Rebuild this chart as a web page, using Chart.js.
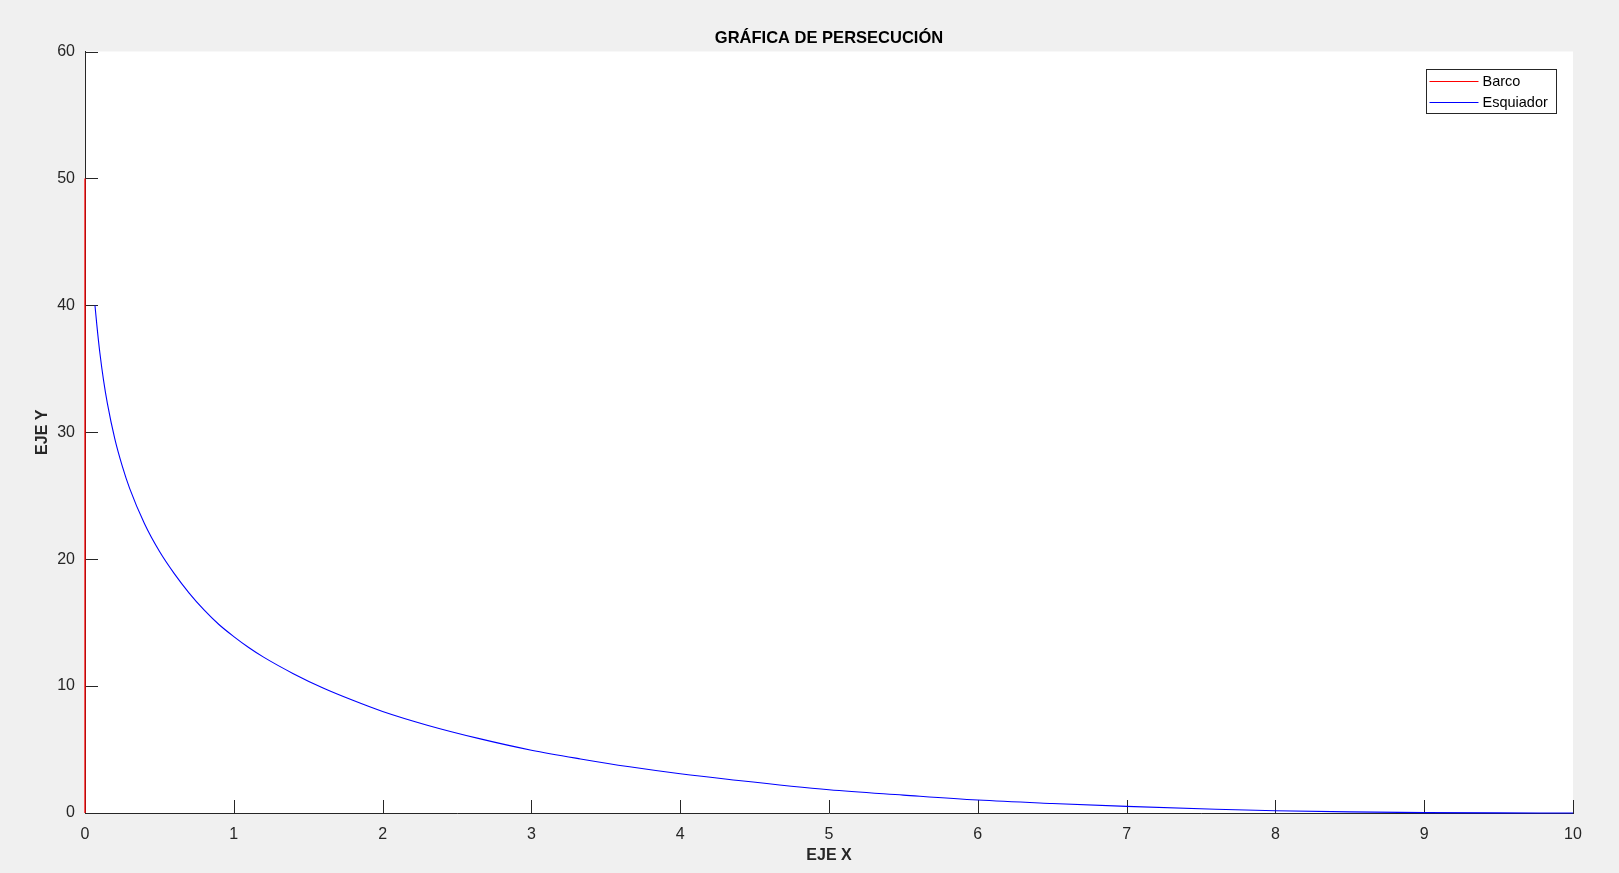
<!DOCTYPE html>
<html lang="es">
<head>
    <meta charset="UTF-8">
    <title>Gráfica de persecución</title>
    <script src="https://cdn.jsdelivr.net/npm/chart.js"></script>
    <style>
        body { margin: 0; background: #f0f0f0; }
        canvas { display: block; }
    </style>
</head>
<body>
<canvas id="chaseChart" width="1619" height="873"></canvas>
<script>
    // datos
    const barcoX = [0, 0];
    const barcoY = [0, 50];
    const esquiadorX = [0.067, 0.08, 0.1, 0.125, 0.15, 0.2, 0.25, 0.3, 0.4, 0.5, 0.6, 0.7, 0.8, 0.9, 1.0, 1.1, 1.2, 1.4, 1.6, 1.8, 2.0, 2.3, 2.65, 3.0, 3.33, 3.66, 4.0, 4.33, 5.0, 5.5, 6.0, 6.5, 7.0, 7.6, 8.0, 8.5, 9.0, 9.5, 10.0];
    const esquiadorY = [40, 38.4, 36.24, 34.07, 32.3, 29.5, 27.35, 25.58, 22.79, 20.62, 18.86, 17.33, 16.0, 14.85, 13.9, 13.04, 12.28, 10.98, 9.85, 8.88, 8.0, 6.92, 5.86, 4.95, 4.26, 3.64, 3.09, 2.64, 1.83, 1.41, 1.02, 0.75, 0.52, 0.3, 0.18, 0.09, 0.03, 0.01, 0.0];
    const xTicks = [0, 1, 2, 3, 4, 5, 6, 7, 8, 9, 10];
    const yTicks = [0, 10, 20, 30, 40, 50, 60];

    const toPoints = (xs, ys) => xs.map((x, i) => ({ x: x, y: ys[i] }));
    const axisColor = "#262626";
    const fontFamily = "'Liberation Sans', Arial, sans-serif";

    // fondo blanco del area de trazado
    const plotBackground = {
      id: "plotBackground",
      beforeDraw(chart) {
        const a = chart.chartArea;
        chart.ctx.save();
        chart.ctx.fillStyle = "#ffffff";
        chart.ctx.fillRect(a.left, a.top, a.right - a.left, a.bottom - a.top);
        chart.ctx.restore();
      }
    };

    // marcas de los ejes hacia dentro, como en matlab
    const inwardTicks = {
      id: "inwardTicks",
      beforeDatasetsDraw(chart) {
        const ctx = chart.ctx;
        const xs = chart.scales.x, ys = chart.scales.y;
        ctx.save();
        ctx.strokeStyle = axisColor;
        ctx.lineWidth = 1;
        ctx.beginPath();
        xs.ticks.forEach((t) => {
          const px = Math.round(xs.getPixelForValue(t.value)) + 0.5;
          ctx.moveTo(px, ys.bottom);
          ctx.lineTo(px, ys.bottom - 13);
        });
        ys.ticks.forEach((t) => {
          const py = Math.round(ys.getPixelForValue(t.value)) + 0.5;
          ctx.moveTo(xs.left, py);
          ctx.lineTo(xs.left + 13, py);
        });
        ctx.stroke();
        ctx.restore();
      }
    };

    // leyenda con recuadro en la esquina superior derecha
    const boxLegend = {
      id: "boxLegend",
      afterDatasetsDraw(chart) {
        const ctx = chart.ctx;
        const a = chart.chartArea;
        const w = 130, h = 44;
        const left = a.right - 17.5 - w;
        const top = a.top + 17;
        ctx.save();
        ctx.fillStyle = "#ffffff";
        ctx.fillRect(left, top, w, h);
        ctx.strokeStyle = axisColor;
        ctx.lineWidth = 1;
        ctx.strokeRect(Math.round(left) + 0.5, Math.round(top) + 0.5, w, h);
        ctx.font = "14.5px " + fontFamily;
        ctx.textBaseline = "middle";
        chart.data.datasets.forEach((ds, i) => {
          const cy = Math.round(top + 12.5 + i * 21) + 0.5;
          ctx.strokeStyle = ds.borderColor;
          ctx.beginPath();
          ctx.moveTo(left + 4, cy);
          ctx.lineTo(left + 53, cy);
          ctx.stroke();
          ctx.fillStyle = "#000000";
          ctx.fillText(ds.label, left + 57, cy);
        });
        ctx.restore();
      }
    };

    const ctx = document.getElementById("chaseChart").getContext("2d");
    const chaseChart = new Chart(ctx, {
      type: "scatter",
      data: {
        datasets: [
          {
            label: "Barco",
            data: toPoints(barcoX, barcoY),
            showLine: true,
            borderColor: "#ff0000",
            borderWidth: 1.3,
            pointRadius: 0,
            clip: 4,
          },
          {
            label: "Esquiador",
            data: toPoints(esquiadorX, esquiadorY),
            showLine: true,
            borderColor: "#0000ff",
            borderWidth: 1.1,
            pointRadius: 0,
            cubicInterpolationMode: "monotone",
            clip: 4,
          },
        ],
      },
      options: {
        responsive: false,
        animation: false,
        layout: { padding: { left: 0, top: 0, right: 46, bottom: 0 } },
        plugins: {
          legend: { display: false },
          tooltip: { enabled: false },
          title: {
            display: true,
            fullSize: false,
            text: "GRÁFICA DE PERSECUCIÓN",
            color: "#000000",
            font: { family: fontFamily, size: 16.5, weight: "bold", lineHeight: 1.2 },
            padding: { top: 29, bottom: 2.7 },
          },
        },
        scales: {
          x: {
            type: "linear",
            min: 0,
            max: 10,
            afterBuildTicks: (s) => { s.ticks = xTicks.map((v) => ({ value: v })); },
            afterFit: (s) => { s.height = 60; },
            grid: { display: false, drawTicks: false },
            border: { display: true, color: axisColor, width: 1 },
            ticks: {
              color: axisColor,
              padding: 12,
              maxRotation: 0,
              font: { family: fontFamily, size: 16 },
            },
            title: {
              display: true,
              text: "EJE X",
              color: axisColor,
              font: { family: fontFamily, size: 16, weight: "bold", lineHeight: 1.2 },
              padding: { top: 0, bottom: 7.4 },
            },
          },
          y: {
            type: "linear",
            min: 0,
            max: 60,
            afterBuildTicks: (s) => { s.ticks = yTicks.map((v) => ({ value: v })); },
            afterFit: (s) => { s.width = 85; },
            grid: { display: false, drawTicks: false },
            border: { display: true, color: axisColor, width: 1 },
            ticks: {
              color: axisColor,
              padding: 10,
              font: { family: fontFamily, size: 16 },
            },
            title: {
              display: true,
              text: "EJE Y",
              color: axisColor,
              font: { family: fontFamily, size: 16, weight: "bold", lineHeight: 1.2 },
              padding: { top: 33.4, bottom: 0 },
            },
          },
        },
      },
      plugins: [plotBackground, inwardTicks, boxLegend],
    });
</script>
</body>
</html>
